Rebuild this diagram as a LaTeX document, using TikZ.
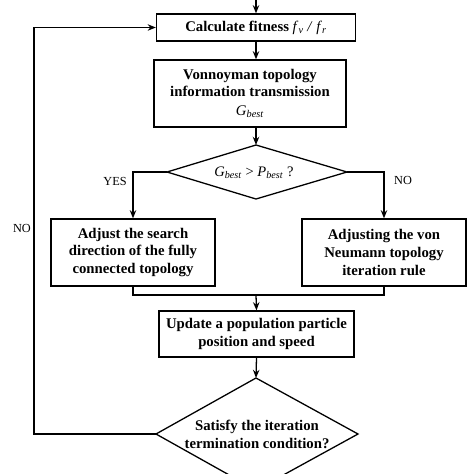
\documentclass[tikz,border=0pt]{standalone}
\usepackage{fontspec}
\setmainfont{Liberation Serif}
\usetikzlibrary{arrows.meta}
\newcommand{\isub}[2]{\textit{#1}\textsubscript{\textit{#2}}}
\def\pxu{0.03cm}
\begin{document}
\begin{tikzpicture}[x=0.03cm,y=-0.03cm,
  line/.style={line width=1.1pt},
  arr/.style={line, -{Stealth[length=7pt,width=5.5pt]}},
  box/.style={draw, line width=1.1pt, font=\bfseries\fontsize{12.6}{15}\selectfont, align=center, inner sep=0pt},
  lbl/.style={font=\fontsize{10.5}{13}\selectfont, inner sep=0pt},
  mlbl/.style={font=\fontsize{12.4}{14}\selectfont, inner sep=0pt},
  dtext/.style={font=\bfseries\fontsize{12.6}{15.5}\selectfont, align=center, inner sep=0pt}]
\useasboundingbox (0,0) rectangle (474,474);
\clip (0,0) rectangle (474,474);
% boxes
\node[box, minimum width={199*\pxu}, minimum height={27*\pxu}] (b1) at (256,27.5)
  {Calculate fitness \mdseries\isub{f}{v} \textit{/} \isub{f}{r}};
\node[box, minimum width={192*\pxu}, minimum height={67*\pxu}] (b2) at (250,93.5)
  {Vonnoyman topology\\information transmission\\[1pt]\mdseries\isub{G}{best}};
\node[box, minimum width={164*\pxu}, minimum height={67*\pxu}] (b3) at (133,252.5)
  {Adjust the search\\direction of the fully\\connected topology};
\node[box, minimum width={164*\pxu}, minimum height={67*\pxu}] (b4) at (384,252.5)
  {Adjusting the von\\Neumann topology\\iteration rule};
\node[box, minimum width={195*\pxu}, minimum height={46*\pxu}] (b5) at (256.5,334)
  {Update a population particle\\position and speed};
% diamond 1
\coordinate (d1t) at (256,145);
\coordinate (d1r) at (347,172);
\coordinate (d1b) at (256,199);
\coordinate (d1l) at (167,172);
\draw[line] (d1t) -- (d1r) -- (d1b) -- (d1l) -- cycle;
\node[mlbl] (d1x) at (254,173) {\isub{G}{best} > \isub{P}{best} ?};
% diamond 2
\coordinate (d2t) at (256,378);
\coordinate (d2r) at (358,434);
\coordinate (d2b) at (256,490);
\coordinate (d2l) at (156,434);
\draw[line] (d2t) -- (d2r) -- (d2b) -- (d2l) -- cycle;
\node[dtext] (d2x) at (257,434) {Satisfy the iteration\\termination condition?};
% connectors
\coordinate (top) at (256,0);
\coordinate (m) at (256,295);
\coordinate (loop) at (34,434);
\draw[arr] (top) -- (b1.north);
\draw[arr] (b1.south) -- (b1.south |- b2.north);
\draw[arr] (b1.south |- b2.south) -- (d1t);
\draw[arr] (d1l) -| (b3.north);
\draw[arr] (d1r) -| (b4.north);
\draw[line] (b3.south) |- (m) -| (b4.south);
\draw[arr] (m) -- (b5.north);
\draw[arr] (b5.south) -- (d2t);
\draw[arr] (d2l) -- (loop) |- (b1.west);
% labels
\node[lbl] (yes) at (115,181) {YES};
\node[lbl] (no1) at (403,180) {NO};
\node[lbl] (no2) at (22,228) {NO};
\end{tikzpicture}
\end{document}
